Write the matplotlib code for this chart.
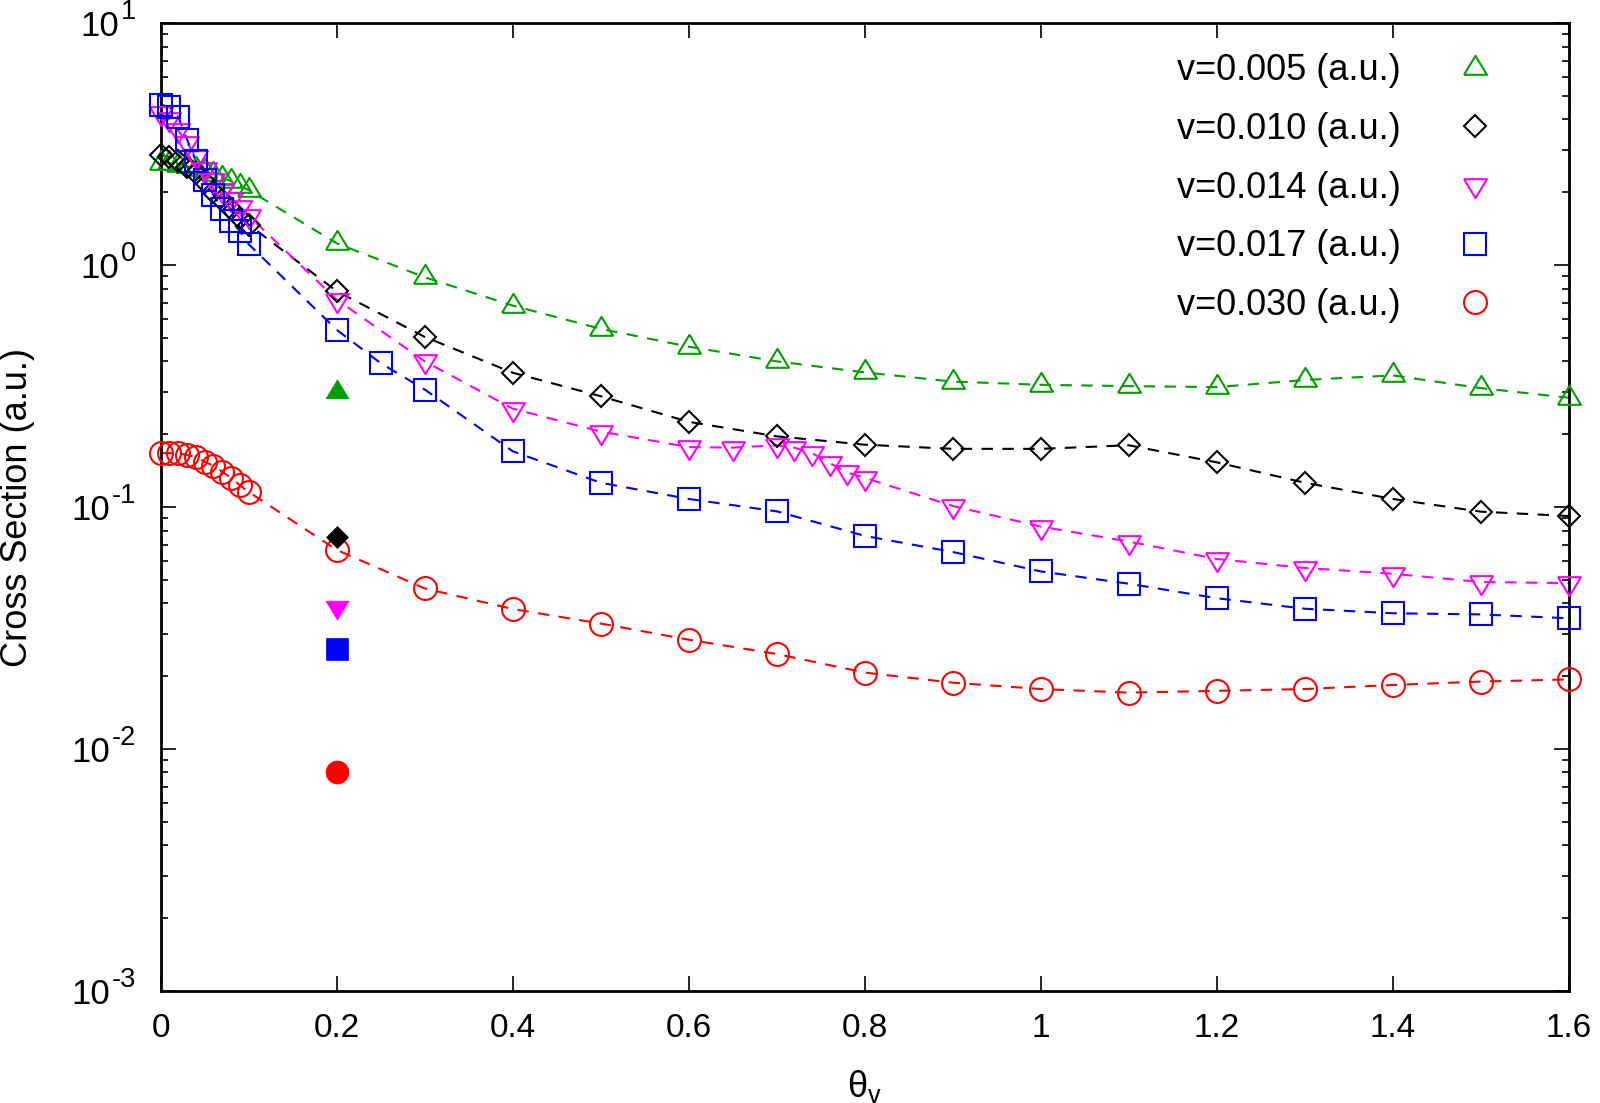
import numpy as np
import matplotlib
matplotlib.use("Agg")
import matplotlib.pyplot as plt
from matplotlib.lines import Line2D
from matplotlib.ticker import LogLocator, FixedLocator, MultipleLocator, NullFormatter

plt.rcParams['font.family'] = ['Liberation Sans', 'DejaVu Sans']
plt.rcParams['mathtext.fontset'] = 'custom'
plt.rcParams['mathtext.rm'] = 'Liberation Sans'
plt.rcParams['mathtext.it'] = 'Liberation Sans:italic'
plt.rcParams['mathtext.default'] = 'regular'

# small angles, same for every velocity
theta_fine = [0.0, 0.01, 0.02, 0.03, 0.04, 0.05, 0.06, 0.07, 0.08, 0.09, 0.1]
theta_coarse = [0.2, 0.3, 0.4, 0.5, 0.6, 0.7, 0.8, 0.9, 1.0, 1.1, 1.2, 1.3, 1.4, 1.5, 1.6]
theta_v014 = [0.2, 0.3, 0.4, 0.5, 0.6, 0.65, 0.7, 0.72, 0.74, 0.76, 0.78, 0.8,
              0.9, 1.0, 1.1, 1.2, 1.3, 1.4, 1.5, 1.6]
theta_v017 = [0.2, 0.25, 0.3, 0.4, 0.5, 0.6, 0.7, 0.8, 0.9, 1.0, 1.1, 1.2, 1.3, 1.4, 1.5, 1.6]

labels = ["v=0.005 (a.u.)", "v=0.010 (a.u.)", "v=0.014 (a.u.)",
          "v=0.017 (a.u.)", "v=0.030 (a.u.)"]

cs_v005 = [2.65, 2.63, 2.6, 2.56, 2.5, 2.45, 2.38, 2.3, 2.22, 2.13, 2.04,
           1.23, 0.89, 0.68, 0.545, 0.46, 0.40, 0.36, 0.33, 0.32, 0.316, 0.313,
           0.335, 0.35, 0.31, 0.283]
cs_v010 = [2.85, 2.8, 2.7, 2.55, 2.4, 2.2, 2.0, 1.85, 1.7, 1.57, 1.47,
           0.78, 0.505, 0.359, 0.287, 0.225, 0.196, 0.181, 0.174, 0.174, 0.18,
           0.153, 0.126, 0.108, 0.0957, 0.0918]
cs_v014 = [4.25, 4.0, 3.6, 3.2, 2.8, 2.5, 2.25, 2.05, 1.88, 1.73, 1.6,
           0.72, 0.40, 0.255, 0.205, 0.177, 0.176, 0.18, 0.176, 0.167, 0.152,
           0.139, 0.132, 0.101, 0.083, 0.072, 0.061, 0.056, 0.053, 0.049, 0.0485]
cs_v017 = [4.6, 4.5, 4.1, 3.3, 2.7, 2.25, 1.95, 1.7, 1.52, 1.38, 1.22,
           0.54, 0.393, 0.306, 0.170, 0.126, 0.108, 0.096, 0.076, 0.0652,
           0.0542, 0.0482, 0.042, 0.038, 0.0364, 0.036, 0.0347]
cs_v030 = [0.167, 0.167, 0.167, 0.164, 0.161, 0.154, 0.148, 0.14, 0.132, 0.123, 0.1155,
           0.0665, 0.0461, 0.0379, 0.033, 0.0283, 0.0247, 0.0207, 0.0188, 0.0177,
           0.0171, 0.0174, 0.0177, 0.0184, 0.019, 0.0194]

# single filled points at theta = 0.2
theta_single = [0.2, 0.2, 0.2, 0.2, 0.2]
cs_single = [0.30, 0.075, 0.0386, 0.0259, 0.008]

ytick_exps = [-3, -2, -1, 0, 1]

colors = ['#00a000', 'black', '#ff00ff', '#0000ff', '#ff0000']

up_tri = [(-1, -0.55), (1, -0.55), (0, 1.1), (-1, -0.55)]
dn_tri = [(-1, 0.55), (1, 0.55), (0, -1.1), (-1, 0.55)]
markers = [up_tri, 'D', dn_tri, 's', 'o']
msizes = [18.2, 11.2, 18.2, 15.8, 16.5]

series_x = [theta_fine + theta_coarse, theta_fine + theta_coarse,
            theta_fine + theta_v014, theta_fine + theta_v017,
            theta_fine + theta_coarse]
series_y = [cs_v005, cs_v010, cs_v014, cs_v017, cs_v030]

fig = plt.figure(figsize=(16, 11.03), dpi=100)
ax = fig.add_axes([0.1004, 0.1015, 0.8802, 0.8776])

handles = []
for x, y, c, m, ms in zip(series_x, series_y, colors, markers, msizes):
    ax.plot(x, y, color=c, lw=1.5, ls=(0, (5.5, 4.5)), zorder=2)
    ax.plot(x, y, ls='none', marker=m, ms=ms, mfc='none', mec=c, mew=1.5,
            zorder=3, clip_on=False)
    handles.append(Line2D([], [], ls='none', marker=m, ms=ms, mfc='none', mec=c, mew=1.5))

for xs, ys, c, m, ms in zip(theta_single, cs_single, colors, markers, msizes):
    ax.plot([xs], [ys], ls='none', marker=m, ms=ms, mfc=c, mec=c, mew=0.5, zorder=4)

ax.set_yscale('log')
ax.set_xlim(0, 1.6)
ax.set_ylim(1e-3, 1e1)

ax.xaxis.set_major_locator(MultipleLocator(0.2))
ax.xaxis.set_major_formatter(plt.FuncFormatter(lambda v, p: f"{v:g}"))
ax.yaxis.set_major_locator(FixedLocator([10.0 ** e for e in ytick_exps]))
ax.yaxis.set_minor_locator(LogLocator(base=10, subs=np.arange(2, 10), numticks=20))
ax.yaxis.set_major_formatter(NullFormatter())
ax.yaxis.set_minor_formatter(NullFormatter())

for s in ax.spines.values():
    s.set_linewidth(2)
ax.tick_params(which='both', direction='in', top=True, right=True, width=1.2)
ax.tick_params(which='major', length=11)
ax.tick_params(which='minor', length=5)
ax.tick_params(axis='x', labelsize=24, pad=16)

# y tick labels as 10 with a gnuplot-like (large) superscript, right aligned
renderer = fig.canvas.get_renderer()
pad_pt = 18.0
for e in ytick_exps:
    t_exp = ax.annotate(f"{e}", xy=(0, 10.0 ** e),
                        xycoords=('axes fraction', 'data'),
                        xytext=(-pad_pt, 3.0), textcoords='offset points',
                        ha='right', va='baseline', fontsize=19.5, annotation_clip=False)
    w = t_exp.get_window_extent(renderer).width * 72.0 / fig.dpi
    ax.annotate("10", xy=(0, 10.0 ** e), xycoords=('axes fraction', 'data'),
                xytext=(-pad_pt - w - 1.0, -9.5), textcoords='offset points',
                ha='right', va='baseline', fontsize=25, annotation_clip=False)

ax.set_xlabel('θ$_{v}$', fontsize=26)
ax.set_ylabel('Cross Section (a.u.)', fontsize=26)
ax.xaxis.set_label_coords(0.5, -0.079)
ax.yaxis.set_label_coords(-0.089, 0.5)

ax.legend(handles, labels, loc='upper right', bbox_to_anchor=(0.959, 0.9687),
          frameon=False, markerfirst=False, fontsize=26, borderpad=0,
          borderaxespad=0, handlelength=2.0, handletextpad=1.05, labelspacing=0.655)

fig.savefig('out.png', dpi=100)
